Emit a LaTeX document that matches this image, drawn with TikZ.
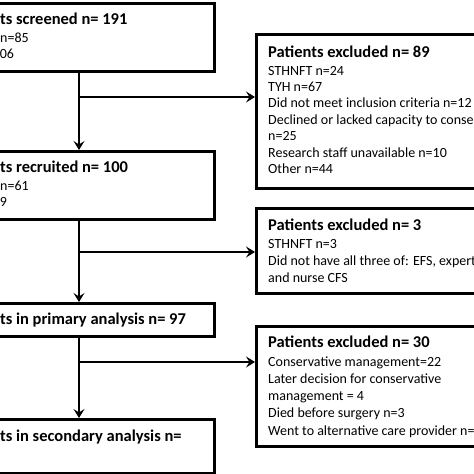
\documentclass[tikz,border=0pt]{standalone}
\usepackage{fontspec}
\setmainfont{Carlito}
\usetikzlibrary{arrows.meta}
\newlength\pw
\newlength\pwr
\begin{document}
\settowidth{\pw}{\fontsize{16.5}{18}\selectfont\bfseries Patien}%
\setlength{\pwr}{\pw}\addtolength{\pwr}{4pt}%
\begin{tikzpicture}[x=1pt,y=-1pt,
  box/.style={draw=black,line width=3pt,fill=white,inner sep=0pt,anchor=north west},
  conn/.style={line width=2.6pt,draw=black},
  arr/.style={conn,-{Stealth[length=9pt,width=11pt,inset=3.5pt]}},
  ttl/.style={anchor=base west,inner sep=0pt,font=\fontsize{16.5}{18}\selectfont\bfseries},
  txt/.style={anchor=base west,inner sep=0pt,font=\fontsize{14}{17}\selectfont}]
\useasboundingbox (0,0) rectangle (474,474);
\clip (0,0) rectangle (474,474);
\fill[white] (0,0) rectangle (474,474);
% left column boxes
\node[box,minimum width=233pt,minimum height=68.5pt] (scr) at (-20,1.5) {};
\node[box,minimum width=233pt,minimum height=68pt] (rec) at (-20,150) {};
\node[box,minimum width=233pt,minimum height=33pt] (pri) at (-20,302) {};
\node[box,minimum width=233pt,minimum height=54pt] (sec) at (-20,418) {};
% right column boxes
\node[box,minimum width=240pt,minimum height=154pt] (ex1) at (255,33) {};
\node[box,minimum width=240pt,minimum height=85pt] (ex2) at (255,207) {};
\node[box,minimum width=240pt,minimum height=120pt] (ex3) at (255,325) {};
% texts left
\node[ttl,xshift=-\pw] (t1) at (0,24) {Patients screened n= 191};
\node[txt,xshift=-\pwr] (t1a) at (0,42) {STHNFT n=85};
\node[txt,xshift=-\pwr] (t1b) at (0,58) {TYH n=106};
\node[ttl,xshift=-\pw] (t2) at (0,172) {Patients recruited n= 100};
\node[txt,xshift=-\pwr] (t2a) at (0,190) {STHNFT n=61};
\node[txt,xshift=-\pwr] (t2b) at (0,206) {TYH n=39};
\node[ttl,xshift=-\pw] (t3) at (0,324) {Patients in primary analysis n= 97};
\node[ttl,xshift=-\pw] (t4) at (0,441) {Patients in secondary analysis n=};
% texts right
\node[ttl] (e1) at (268,57) {Patients excluded n= 89};
\node[txt] (e1a) at (268,75) {STHNFT n=24};
\node[txt] (e1b) at (268,91.4) {TYH n=67};
\node[txt] (e1c) at (268,107.8) {Did not meet inclusion criteria n=12};
\node[txt] (e1d) at (268,124.2) {Declined or lacked capacity to consent};
\node[txt] (e1e) at (268,140.6) {n=25};
\node[txt] (e1f) at (268,157) {Research staff unavailable n=10};
\node[txt] (e1g) at (268,173.4) {Other n=44};
\node[ttl] (e2) at (268,230) {Patients excluded n= 3};
\node[txt] (e2a) at (268,248) {STHNFT n=3};
\node[txt] (e2b) at (268,265) {Did not have all three of: EFS, expert};
\node[txt] (e2c) at (268,282) {and nurse CFS};
\node[ttl] (e3) at (268,347) {Patients excluded n= 30};
\node[txt] (e3a) at (268,366) {Conservative management=22};
\node[txt] (e3b) at (268,383.3) {Later decision for conservative};
\node[txt] (e3c) at (268,400.6) {management = 4};
\node[txt] (e3d) at (268,417.9) {Died before surgery n=3};
\node[txt] (e3e) at (268,435.2) {Went to alternative care provider n=1};
% connectors
\coordinate (cx) at (79,0);
\coordinate (j1) at (79,97);
\coordinate (j2) at (79,252);
\coordinate (j3) at (79,362);
\draw[arr] (scr.south -| cx) -- (rec.north -| cx);
\draw[arr] (rec.south -| cx) -- (pri.north -| cx);
\draw[arr] (pri.south -| cx) -- (sec.north -| cx);
\draw[arr] (j1) -- (j1 -| ex1.west);
\draw[arr] (j2) -- (j2 -| ex2.west);
\draw[arr] (j3) -- (j3 -| ex3.west);
\end{tikzpicture}
\end{document}
